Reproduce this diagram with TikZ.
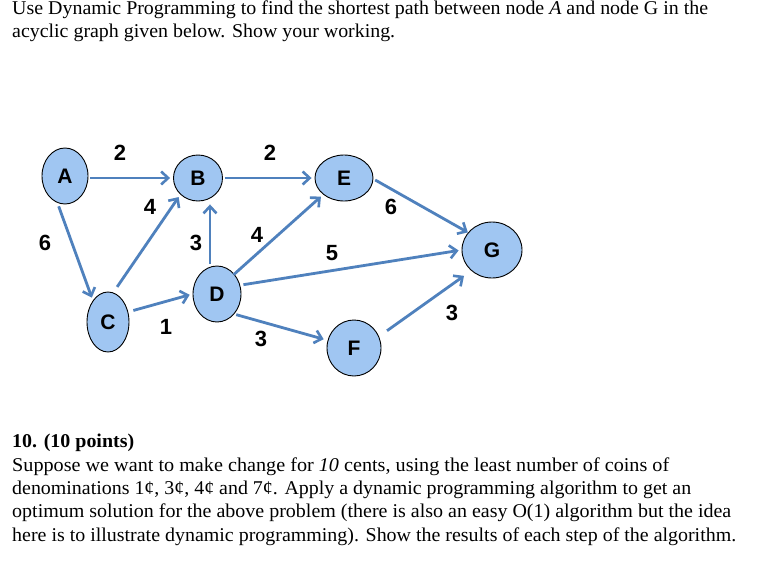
\documentclass[tikz,border=0pt]{standalone}
\usepackage{fontspec}
\usepackage{graphicx}
\setmainfont{Liberation Serif}
\newfontfamily\arialb{Liberation Sans}
\usetikzlibrary{arrows.meta,shapes.geometric}
\definecolor{nodefill}{HTML}{A0C6F2}
\definecolor{edgeblue}{HTML}{4F81BD}
\tikzset{
  gnode/.style={ellipse,draw=black,line width=0.9pt,fill=nodefill,inner sep=0pt,
    font=\arialb\bfseries\fontsize{21}{21}\selectfont},
  gedge/.style={draw=edgeblue,line width=2.8pt,-{Straight Barb[length=7pt,width=13pt,line width=2.6pt]},shorten <=2pt,shorten >=3pt},
  elabel/.style={font=\arialb\bfseries\fontsize{22}{22}\selectfont,inner sep=0pt},
  tline/.style={anchor=base west,inner sep=0pt,font=\fontsize{19.5}{23}\selectfont}
}
\begin{document}
\begin{tikzpicture}[x=1pt,y=-1pt]
\useasboundingbox[fill=white] (0,0) rectangle (784,568);
% title
\node[tline] (t1) at (12,14) {\resizebox{696pt}{\height}{Use Dynamic Programming to find the shortest path between node \textit{A} and node G in the}};
\node[tline] (t2) at (12,37) {\resizebox{383pt}{\height}{acyclic graph given below. Show your working.}};
% nodes
\node[gnode,minimum width=46pt,minimum height=56pt] (A) at (65,176) {A};
\node[gnode,minimum width=49pt,minimum height=46pt] (B) at (198,178) {B};
\node[gnode,minimum width=42pt,minimum height=60pt] (C) at (108,322) {C};
\node[gnode,minimum width=48pt,minimum height=56pt] (D) at (217,294) {D};
\node[gnode,minimum width=58pt,minimum height=46pt] (E) at (344,178) {E};
\node[gnode,minimum width=54pt,minimum height=56pt] (F) at (354,348) {F};
\node[gnode,minimum width=60pt,minimum height=56pt] (G) at (492,250) {G};
% edges
\draw[gedge] ([yshift=-2pt]A.east) -- (B.west);
\draw[gedge] ([xshift=-7pt]A.south) -- (C.north west);
\draw[gedge] ([xshift=8pt,yshift=3pt]C.north) -- (B.south west);
\draw[gedge] ([xshift=2pt,yshift=11pt]C.east) -- (D.west);
\draw[gedge] ([xshift=-7pt]D.north) -- ([xshift=12pt]B.south);
\draw[gedge] ([xshift=-2pt,yshift=-2pt]D.north east) -- (E.south west);
\draw[gedge] ([yshift=9pt]D.east) -- (G.west);
\draw[gedge] (D.south east) -- ([yshift=8pt]F.west);
\draw[gedge] (B.east) -- (E.west);
\draw[gedge] ([yshift=-1pt]E.east) -- ([yshift=-4pt]G.north west);
\draw[gedge] ([xshift=12pt,yshift=-4pt]F.north east) -- ([xshift=-4pt,yshift=-4pt]G.south west);
% edge labels
\node[elabel] (l1) at (120,153) {2};
\node[elabel] (l2) at (270,153) {2};
\node[elabel] (l3) at (150,207) {4};
\node[elabel] (l4) at (45,243) {6};
\node[elabel] (l5) at (196,243) {3};
\node[elabel] (l6) at (257,235) {4};
\node[elabel] (l7) at (332,253) {5};
\node[elabel] (l8) at (391,207) {6};
\node[elabel] (l9) at (166,327) {1};
\node[elabel] (l10) at (261,339) {3};
\node[elabel] (l11) at (452,313) {3};
% question 10
\node[tline] (q0) at (12,447) {\resizebox{122pt}{\height}{\textbf{10. (10 points)}}};
\node[tline] (q1) at (12,471) {\resizebox{657pt}{\height}{Suppose we want to make change for \textit{10} cents, using the least number of coins of}};
\node[tline] (q2) at (12,494) {\resizebox{679pt}{\height}{denominations 1¢, 3¢, 4¢ and 7¢. Apply a dynamic programming algorithm to get an}};
\node[tline] (q3) at (12,517) {\resizebox{719pt}{\height}{optimum solution for the above problem (there is also an easy O(1) algorithm but the idea}};
\node[tline] (q4) at (12,541) {\resizebox{724pt}{\height}{here is to illustrate dynamic programming). Show the results of each step of the algorithm.}};
\end{tikzpicture}
\end{document}
